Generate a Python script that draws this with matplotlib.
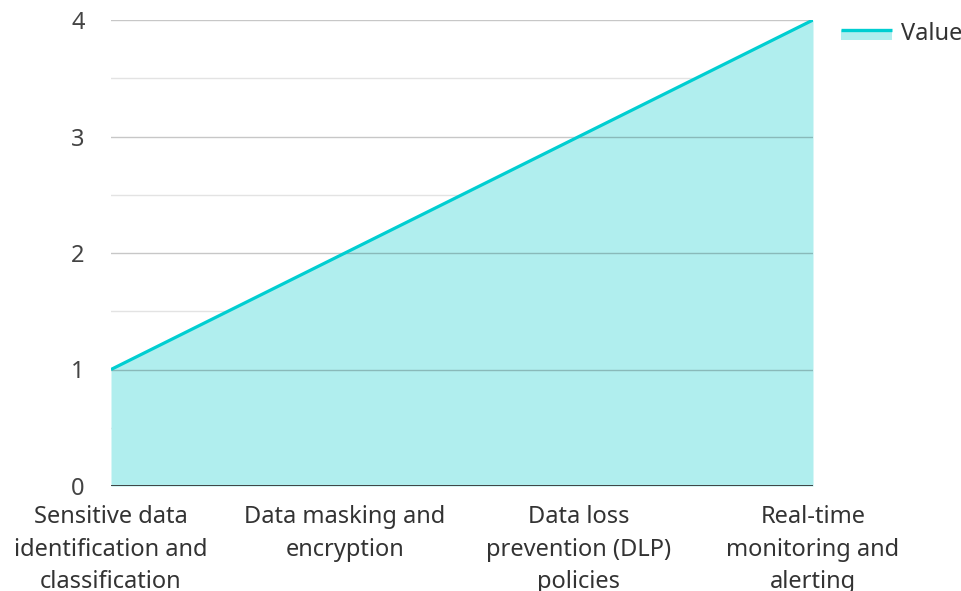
import matplotlib
matplotlib.use("Agg")
import matplotlib.pyplot as plt
from matplotlib.lines import Line2D
from matplotlib.patches import Rectangle
from matplotlib.legend_handler import HandlerBase

categories = ["Sensitive data\nidentification and\nclassification",
              "Data masking and\nencryption",
              "Data loss\nprevention (DLP)\npolicies",
              "Real-time\nmonitoring and\nalerting"]
values = [1, 2, 3, 4]
series_name = "Value"

plt.rcParams['font.family'] = ['Noto Sans', 'DejaVu Sans']
line_color = "#00CED1"
fill_color = "#B0EEEE"
FS = 17

fig = plt.figure(figsize=(9.62, 5.91), dpi=100)
ax = fig.add_axes([111/962, 1-486/591, (813-111)/962, (486-20)/591])
x = list(range(len(categories)))

for y in [0.5, 1.5, 2.5, 3.5]:
    ax.axhline(y, color="#e3e3e3", lw=1, zorder=1)
ax.fill_between(x, 0, values, color=fill_color, lw=0, zorder=2)
for y in [1, 2, 3, 4]:
    ax.axhline(y, color="#000000", alpha=0.22, lw=1, zorder=3)
ax.plot(x, values, color=line_color, lw=2.3, zorder=4, solid_capstyle="butt")
ax.axhline(0, color="#333333", lw=2, zorder=5)

ax.set_xlim(0, 3)
ax.set_ylim(0, 4)
ax.set_yticks([0, 1, 2, 3, 4])
ax.set_xticks(x)
ax.set_xticklabels(categories, fontsize=FS, color="#333333", linespacing=1.45)
ax.tick_params(axis="y", length=0, pad=19, labelsize=FS, labelcolor="#444444")
ax.tick_params(axis="x", length=0, pad=14)
for s in ax.spines.values():
    s.set_visible(False)


class AreaHandler(HandlerBase):
    def create_artists(self, legend, orig_handle, xdescent, ydescent, width, height, fontsize, trans):
        top = height * 0.6 - ydescent
        h = height * 0.6
        rect = Rectangle((-xdescent, top - h), width, h,
                         facecolor=fill_color, edgecolor="none", transform=trans)
        line = Line2D([-xdescent, -xdescent + width], [top, top], color=line_color, lw=2.4,
                      solid_capstyle="butt", transform=trans)
        return [rect, line]


proxy = Rectangle((0, 0), 1, 1)
fig.legend([proxy], [series_name], loc="upper right", bbox_to_anchor=(962/962, 1-22/591),
           frameon=False, fontsize=FS, handlelength=2.15, handletextpad=0.38,
           handler_map={Rectangle: AreaHandler()}, labelcolor="#333333",
           borderaxespad=0, borderpad=0.0)

fig.savefig("out.png", dpi=100)
